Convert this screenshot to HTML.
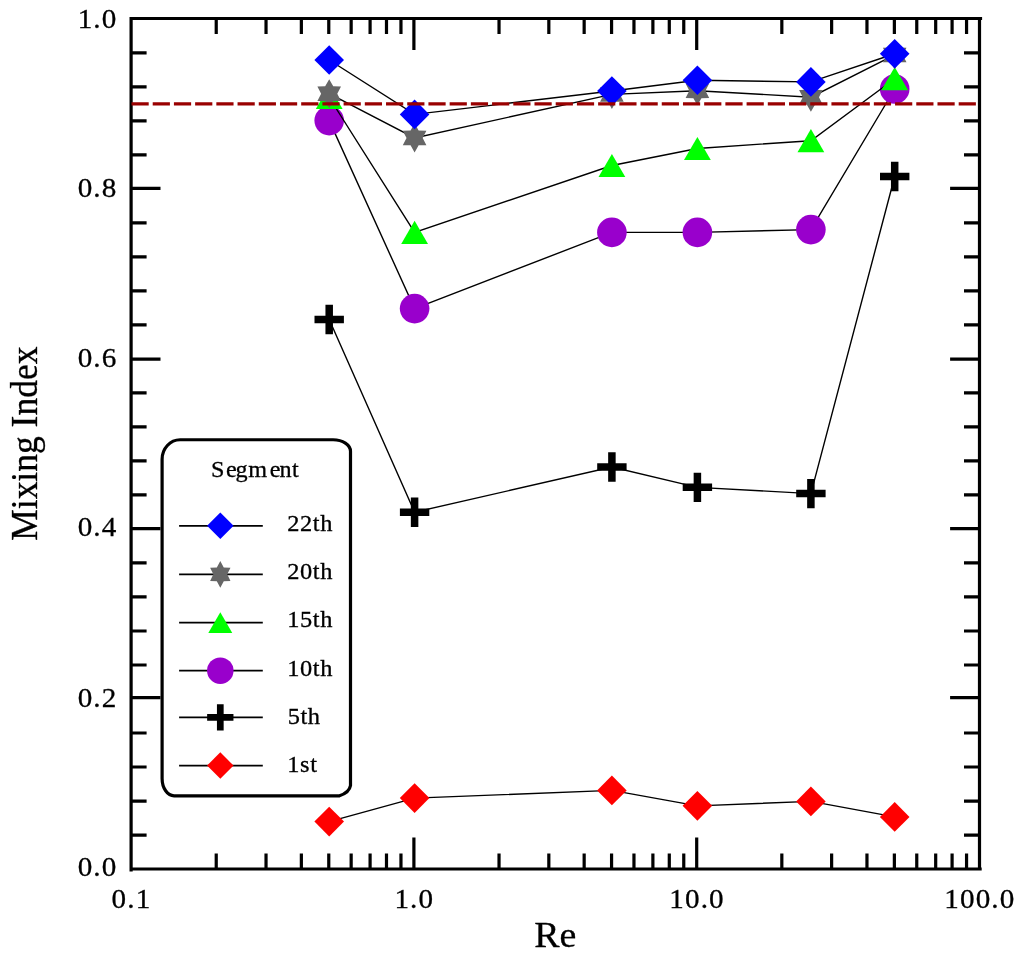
<!DOCTYPE html>
<html lang="en"><head><meta charset="utf-8"><title>Mixing Index vs Re</title>
<style>html,body{margin:0;padding:0;background:#fff}body{width:1024px;height:957px;overflow:hidden}svg{display:block}text{font-family:"Liberation Serif","Times New Roman",serif;fill:#000;stroke:#000;stroke-width:0.3px}</style></head><body>
<svg width="1024" height="957" viewBox="0 0 1024 957">
<rect width="1024" height="957" fill="#fff"/>
<g stroke="#000" stroke-width="3.2" fill="none" stroke-linecap="butt">
<path d="M131.1 16.9 V871.4 M979.5 16.9 V870.6 M129.5 18.5 H982.1 M129.5 869.0 H981.7"/>
<path d="M216.23 18.5 v15.5 M216.23 869.0 v-15.5 M266.03 18.5 v15.5 M266.03 869.0 v-15.5 M301.36 18.5 v15.5 M301.36 869.0 v-15.5 M328.77 18.5 v15.5 M328.77 869.0 v-15.5 M351.16 18.5 v15.5 M351.16 869.0 v-15.5 M370.09 18.5 v15.5 M370.09 869.0 v-15.5 M386.49 18.5 v15.5 M386.49 869.0 v-15.5 M400.96 18.5 v15.5 M400.96 869.0 v-15.5 M413.90 18.5 v31.6 M413.90 869.0 v-31.6 M499.03 18.5 v15.5 M499.03 869.0 v-15.5 M548.83 18.5 v15.5 M548.83 869.0 v-15.5 M584.16 18.5 v15.5 M584.16 869.0 v-15.5 M611.57 18.5 v15.5 M611.57 869.0 v-15.5 M633.96 18.5 v15.5 M633.96 869.0 v-15.5 M652.89 18.5 v15.5 M652.89 869.0 v-15.5 M669.29 18.5 v15.5 M669.29 869.0 v-15.5 M683.76 18.5 v15.5 M683.76 869.0 v-15.5 M696.70 18.5 v31.6 M696.70 869.0 v-31.6 M781.83 18.5 v15.5 M781.83 869.0 v-15.5 M831.63 18.5 v15.5 M831.63 869.0 v-15.5 M866.96 18.5 v15.5 M866.96 869.0 v-15.5 M894.37 18.5 v15.5 M894.37 869.0 v-15.5 M916.76 18.5 v15.5 M916.76 869.0 v-15.5 M935.69 18.5 v15.5 M935.69 869.0 v-15.5 M952.09 18.5 v15.5 M952.09 869.0 v-15.5 M966.56 18.5 v15.5 M966.56 869.0 v-15.5"/>
<path d="M131.1 52.81 h15.5 M979.5 52.81 h-15.5 M131.1 86.82 h15.5 M979.5 86.82 h-15.5 M131.1 120.83 h15.5 M979.5 120.83 h-15.5 M131.1 154.84 h15.5 M979.5 154.84 h-15.5 M131.1 188.30 h29.4 M979.5 188.30 h-29.4 M131.1 222.86 h15.5 M979.5 222.86 h-15.5 M131.1 256.87 h15.5 M979.5 256.87 h-15.5 M131.1 290.88 h15.5 M979.5 290.88 h-15.5 M131.1 324.89 h15.5 M979.5 324.89 h-15.5 M131.1 359.20 h29.4 M979.5 359.20 h-29.4 M131.1 392.91 h15.5 M979.5 392.91 h-15.5 M131.1 426.92 h15.5 M979.5 426.92 h-15.5 M131.1 460.93 h15.5 M979.5 460.93 h-15.5 M131.1 494.94 h15.5 M979.5 494.94 h-15.5 M131.1 528.55 h29.4 M979.5 528.55 h-29.4 M131.1 562.96 h15.5 M979.5 562.96 h-15.5 M131.1 596.97 h15.5 M979.5 596.97 h-15.5 M131.1 630.98 h15.5 M979.5 630.98 h-15.5 M131.1 664.99 h15.5 M979.5 664.99 h-15.5 M131.1 697.70 h29.4 M979.5 697.70 h-29.4 M131.1 733.01 h15.5 M979.5 733.01 h-15.5 M131.1 767.02 h15.5 M979.5 767.02 h-15.5 M131.1 801.03 h15.5 M979.5 801.03 h-15.5 M131.1 835.04 h15.5 M979.5 835.04 h-15.5"/>
</g>
<g>
<polyline points="329.20,821.60 414.60,798.10 611.90,790.40 697.40,805.85 810.90,801.40 894.70,816.90" fill="none" stroke="#000" stroke-width="1.4"/>
<path d="M329.20 806.80 L344.00 821.60 L329.20 836.40 L314.40 821.60Z" fill="#ff0000"/>
<path d="M414.60 783.30 L429.40 798.10 L414.60 812.90 L399.80 798.10Z" fill="#ff0000"/>
<path d="M611.90 775.60 L626.70 790.40 L611.90 805.20 L597.10 790.40Z" fill="#ff0000"/>
<path d="M697.40 791.05 L712.20 805.85 L697.40 820.65 L682.60 805.85Z" fill="#ff0000"/>
<path d="M810.90 786.60 L825.70 801.40 L810.90 816.20 L796.10 801.40Z" fill="#ff0000"/>
<path d="M894.70 802.10 L909.50 816.90 L894.70 831.70 L879.90 816.90Z" fill="#ff0000"/>
</g>
<g>
<polyline points="329.20,319.50 414.60,512.20 611.90,467.00 697.40,487.35 810.90,493.60 894.70,176.50" fill="none" stroke="#000" stroke-width="1.4"/>
<path d="M314.50 315.75 h29.40 v7.50 h-29.40Z M325.45 304.80 h7.50 v29.40 h-7.50Z" fill="#000000"/>
<path d="M399.90 508.45 h29.40 v7.50 h-29.40Z M410.85 497.50 h7.50 v29.40 h-7.50Z" fill="#000000"/>
<path d="M597.20 463.25 h29.40 v7.50 h-29.40Z M608.15 452.30 h7.50 v29.40 h-7.50Z" fill="#000000"/>
<path d="M682.70 483.60 h29.40 v7.50 h-29.40Z M693.65 472.65 h7.50 v29.40 h-7.50Z" fill="#000000"/>
<path d="M796.20 489.85 h29.40 v7.50 h-29.40Z M807.15 478.90 h7.50 v29.40 h-7.50Z" fill="#000000"/>
<path d="M880.00 172.75 h29.40 v7.50 h-29.40Z M890.95 161.80 h7.50 v29.40 h-7.50Z" fill="#000000"/>
</g>
<g>
<polyline points="329.20,120.60 414.60,308.60 611.90,232.40 697.40,232.40 810.90,229.60 894.70,89.00" fill="none" stroke="#000" stroke-width="1.4"/>
<circle cx="329.20" cy="120.60" r="14.80" fill="#9900cc"/>
<circle cx="414.60" cy="308.60" r="14.80" fill="#9900cc"/>
<circle cx="611.90" cy="232.40" r="14.80" fill="#9900cc"/>
<circle cx="697.40" cy="232.40" r="14.80" fill="#9900cc"/>
<circle cx="810.90" cy="229.60" r="14.80" fill="#9900cc"/>
<circle cx="894.70" cy="89.00" r="14.80" fill="#9900cc"/>
</g>
<g>
<polyline points="329.20,97.50 414.60,232.40 611.90,165.50 697.40,148.50 810.90,140.70 894.70,78.70" fill="none" stroke="#000" stroke-width="1.4"/>
<path d="M329.20 85.90 L342.60 109.10 L315.80 109.10Z" fill="#00ff00"/>
<path d="M414.60 220.80 L428.00 244.00 L401.20 244.00Z" fill="#00ff00"/>
<path d="M611.90 153.90 L625.30 177.10 L598.50 177.10Z" fill="#00ff00"/>
<path d="M697.40 136.90 L710.80 160.10 L684.00 160.10Z" fill="#00ff00"/>
<path d="M810.90 129.10 L824.30 152.30 L797.50 152.30Z" fill="#00ff00"/>
<path d="M894.70 67.10 L908.10 90.30 L881.30 90.30Z" fill="#00ff00"/>
</g>
<g>
<polyline points="329.20,93.70 414.60,137.90 611.90,94.40 697.40,90.70 810.90,97.20 894.70,54.90" fill="none" stroke="#000" stroke-width="1.4"/>
<path d="M329.20 79.20 L333.24 86.25 L341.00 86.45 L337.28 93.70 L341.00 100.95 L333.24 101.15 L329.20 108.20 L325.16 101.15 L317.40 100.95 L321.12 93.70 L317.40 86.45 L325.16 86.25Z" fill="#666666"/>
<path d="M414.60 123.40 L418.64 130.45 L426.40 130.65 L422.68 137.90 L426.40 145.15 L418.64 145.35 L414.60 152.40 L410.56 145.35 L402.80 145.15 L406.52 137.90 L402.80 130.65 L410.56 130.45Z" fill="#666666"/>
<path d="M611.90 79.90 L615.94 86.95 L623.70 87.15 L619.98 94.40 L623.70 101.65 L615.94 101.85 L611.90 108.90 L607.86 101.85 L600.10 101.65 L603.82 94.40 L600.10 87.15 L607.86 86.95Z" fill="#666666"/>
<path d="M697.40 76.20 L701.44 83.25 L709.20 83.45 L705.48 90.70 L709.20 97.95 L701.44 98.15 L697.40 105.20 L693.36 98.15 L685.60 97.95 L689.32 90.70 L685.60 83.45 L693.36 83.25Z" fill="#666666"/>
<path d="M810.90 82.70 L814.94 89.75 L822.70 89.95 L818.98 97.20 L822.70 104.45 L814.94 104.65 L810.90 111.70 L806.86 104.65 L799.10 104.45 L802.82 97.20 L799.10 89.95 L806.86 89.75Z" fill="#666666"/>
<path d="M894.70 40.40 L898.74 47.45 L906.50 47.65 L902.78 54.90 L906.50 62.15 L898.74 62.35 L894.70 69.40 L890.66 62.35 L882.90 62.15 L886.62 54.90 L882.90 47.65 L890.66 47.45Z" fill="#666666"/>
</g>
<g>
<polyline points="329.20,60.00 414.60,114.40 611.90,91.00 697.40,80.30 810.90,81.90 894.70,53.75" fill="none" stroke="#000" stroke-width="1.4"/>
<path d="M329.20 45.20 L344.00 60.00 L329.20 74.80 L314.40 60.00Z" fill="#0000ff"/>
<path d="M414.60 99.60 L429.40 114.40 L414.60 129.20 L399.80 114.40Z" fill="#0000ff"/>
<path d="M611.90 76.20 L626.70 91.00 L611.90 105.80 L597.10 91.00Z" fill="#0000ff"/>
<path d="M697.40 65.50 L712.20 80.30 L697.40 95.10 L682.60 80.30Z" fill="#0000ff"/>
<path d="M810.90 67.10 L825.70 81.90 L810.90 96.70 L796.10 81.90Z" fill="#0000ff"/>
<path d="M894.70 38.95 L909.50 53.75 L894.70 68.55 L879.90 53.75Z" fill="#0000ff"/>
</g>
<line x1="131.5" y1="103.95" x2="979.5" y2="103.95" stroke="#990000" stroke-width="3.3" stroke-dasharray="17.2 4.01"/>
<path d="M180.1 439.75 H333.1 A17.4 11.6 0 0 1 350.5 451.3 V785.6 Q349.4 792.6 339.5 795.8 H174.2 A12 17.4 0 0 1 162.1 778.4 V459.3 A18 19.5 0 0 1 180.1 439.75Z" fill="#fff" stroke="#000" stroke-width="3.2"/>
<line x1="179.1" y1="525.8" x2="262.8" y2="525.8" stroke="#000" stroke-width="1.7"/>
<path d="M220.30 512.55 L233.55 525.80 L220.30 539.05 L207.05 525.80Z" fill="#0000ff"/>
<line x1="179.1" y1="574.3" x2="262.8" y2="574.3" stroke="#000" stroke-width="1.7"/>
<path d="M220.30 560.96 L223.78 567.45 L230.47 567.63 L227.26 574.30 L230.47 580.97 L223.78 581.15 L220.30 587.64 L216.82 581.15 L210.13 580.97 L213.34 574.30 L210.13 567.63 L216.82 567.45Z" fill="#666666"/>
<line x1="179.1" y1="622.6" x2="262.8" y2="622.6" stroke="#000" stroke-width="1.7"/>
<path d="M220.30 612.22 L232.29 632.98 L208.31 632.98Z" fill="#00ff00"/>
<line x1="179.1" y1="670.7" x2="262.8" y2="670.7" stroke="#000" stroke-width="1.7"/>
<circle cx="220.30" cy="670.70" r="13.25" fill="#9900cc"/>
<line x1="179.1" y1="717.3" x2="262.8" y2="717.3" stroke="#000" stroke-width="1.7"/>
<path d="M207.14 713.94 h26.31 v6.71 h-26.31Z M216.94 704.14 h6.71 v26.31 h-6.71Z" fill="#000000"/>
<line x1="179.1" y1="765.6" x2="262.8" y2="765.6" stroke="#000" stroke-width="1.7"/>
<path d="M220.30 752.35 L233.55 765.60 L220.30 778.85 L207.05 765.60Z" fill="#ff0000"/>
<text id="y1.0" transform="translate(77.65 27.50) scale(1.0600 1.0000)" font-size="27.5" letter-spacing="1.038">1.0</text>
<text id="y0.8" transform="translate(77.65 197.40) scale(1.0600 1.0000)" font-size="27.5" letter-spacing="1.038">0.8</text>
<text id="y0.6" transform="translate(77.65 366.60) scale(1.0600 1.0000)" font-size="27.5" letter-spacing="1.038">0.6</text>
<text id="y0.4" transform="translate(77.65 536.00) scale(1.0600 1.0000)" font-size="27.5" letter-spacing="1.038">0.4</text>
<text id="y0.2" transform="translate(77.65 706.80) scale(1.0600 1.0000)" font-size="27.5" letter-spacing="1.038">0.2</text>
<text id="y0.0" transform="translate(77.65 876.10) scale(1.0600 1.0000)" font-size="27.5" letter-spacing="1.038">0.0</text>
<text id="x0.1" transform="translate(111.58 907.80) scale(1.0600 1.0000)" font-size="27.5" letter-spacing="1.038">0.1</text>
<text id="x1.0" transform="translate(394.38 907.80) scale(1.0600 1.0000)" font-size="27.5" letter-spacing="1.038">1.0</text>
<text id="x10.0" transform="translate(669.34 907.80) scale(1.0600 1.0000)" font-size="27.5" letter-spacing="1.038">10.0</text>
<text id="x100.0" transform="translate(944.31 907.80) scale(1.0600 1.0000)" font-size="27.5" letter-spacing="1.038">100.0</text>
<text id="xt" transform="translate(534.19 946.70) scale(1.0533 1.0000)" font-size="36">Re</text>
<text id="yt" transform="translate(37.00 540.80) rotate(-90) scale(1.0000 1.0600)" font-size="35.5">Mixing Index</text>
<text id="lt" transform="translate(212.00 477.20) scale(1.0500 1.0000)" font-size="23" x="-0.92 13.43 22.49 34.42 54.96 64.28 76.30">Segment</text>
<text id="l22th" transform="translate(287.30 531.10) scale(1.0600 1.0000)" font-size="23" letter-spacing="0.566">22th</text>
<text id="l20th" transform="translate(287.30 579.20) scale(1.0600 1.0000)" font-size="23" letter-spacing="0.566">20th</text>
<text id="l15th" transform="translate(287.30 627.30) scale(1.0600 1.0000)" font-size="23" letter-spacing="0.566">15th</text>
<text id="l10th" transform="translate(287.30 675.50) scale(1.0600 1.0000)" font-size="23" letter-spacing="0.566">10th</text>
<text id="l5th" transform="translate(287.70 723.50) scale(1.0600 1.0000)" font-size="23" letter-spacing="0.566">5th</text>
<text id="l1st" transform="translate(287.30 771.70) scale(1.0600 1.0000)" font-size="23" letter-spacing="0.566">1st</text>
</svg></body></html>
